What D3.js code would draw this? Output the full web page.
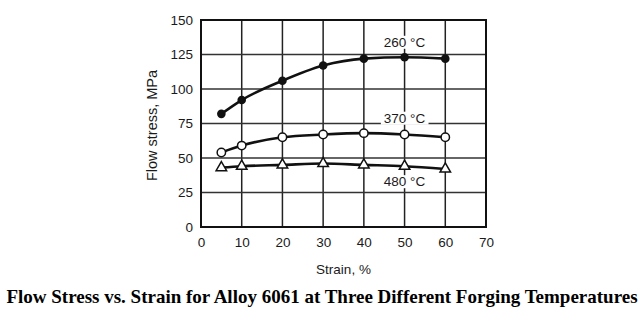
<!DOCTYPE html>
<html>
<head>
<meta charset="utf-8">
<script src="https://cdn.jsdelivr.net/npm/d3@7"></script>
<style>
  body { margin: 0; background: #fff; }
  .tick text { font-family: "Liberation Sans Narrow", "Arial Narrow", Arial, sans-serif; font-size: 13.5px; fill: #1a1a1a; }
</style>
</head>
<body>
<div id="chart-area"></div>
<script>

// Data
var strain = [5, 10, 20, 30, 40, 50, 60];
var stress260 = [82, 92, 106, 117, 122, 123, 122];
var stress370 = [54, 59, 65, 67, 68, 67, 65];
var stress480 = [43, 44, 45, 46, 45, 44, 42];

var xTicks = [0, 10, 20, 30, 40, 50, 60, 70];
var yTicks = [0, 25, 50, 75, 100, 125, 150];

var seriesNames = ["260 °C", "370 °C", "480 °C"];

// SVG drawing area
var margin = {top: 20, right: 156, bottom: 103, left: 201};
var width = 642 - margin.left - margin.right,
    height = 330 - margin.top - margin.bottom;

var svg = d3.select("#chart-area").append("svg")
    .attr("width", 642)
    .attr("height", 330);

var g = svg.append("g")
    .attr("transform", "translate(" + margin.left + "," + margin.top + ")");

// Scales
var x = d3.scaleLinear().domain([0, 70]).range([0, width]);
var y = d3.scaleLinear().domain([0, 150]).range([height, 0]);

// Grid
g.selectAll(".vgrid")
    .data(xTicks.slice(1, -1))
  .enter().append("line")
    .attr("x1", function(d) { return x(d); })
    .attr("x2", function(d) { return x(d); })
    .attr("y1", 0).attr("y2", height)
    .attr("stroke", "#222").attr("stroke-width", 1.5);

g.selectAll(".hgrid")
    .data(yTicks.slice(1, -1))
  .enter().append("line")
    .attr("x1", 0).attr("x2", width)
    .attr("y1", function(d) { return y(d); })
    .attr("y2", function(d) { return y(d); })
    .attr("stroke", "#333").attr("stroke-width", 1.4);

// Axes
var xAxis = d3.axisBottom(x).tickValues(xTicks).tickSize(0).tickPadding(10);
var yAxis = d3.axisLeft(y).tickValues(yTicks).tickSize(0).tickPadding(8);

g.append("g")
    .attr("transform", "translate(0," + height + ")")
    .call(xAxis)
    .call(function(s) { s.select(".domain").remove(); });

g.append("g")
    .call(yAxis)
    .call(function(s) { s.select(".domain").remove(); });

// Frame
g.append("rect")
    .attr("width", width).attr("height", height)
    .attr("fill", "none").attr("stroke", "#111").attr("stroke-width", 2);

// Series labels with white background knocking out grid
var labels = [
  {text: seriesNames[0], x: 50, y: 134},
  {text: seriesNames[1], x: 50, y: 79},
  {text: seriesNames[2], x: 50, y: 33}
];
labels.forEach(function(l) {
  var t = g.append("text")
      .attr("x", x(l.x)).attr("y", y(l.y))
      .attr("text-anchor", "middle").attr("dy", "0.35em")
      .attr("font-family", "Arial, 'Liberation Sans', sans-serif")
      .attr("font-size", 13.5).attr("fill", "#1a1a1a")
      .text(l.text);
  var bb = t.node().getBBox();
  g.insert("rect", function() { return t.node(); })
      .attr("x", bb.x - 3).attr("y", bb.y + 1)
      .attr("width", bb.width + 6).attr("height", bb.height - 2)
      .attr("fill", "#fff");
});

// Lines
var line = d3.line()
    .x(function(d) { return x(d[0]); })
    .y(function(d) { return y(d[1]); })
    .curve(d3.curveMonotoneX);

var series = [stress260, stress370, stress480].map(function(vals) {
  return vals.map(function(v, i) { return [strain[i], v]; });
});

series.forEach(function(pts) {
  g.append("path")
      .datum(pts)
      .attr("d", line)
      .attr("fill", "none")
      .attr("stroke", "#111")
      .attr("stroke-width", 2.6);
});

// Markers
g.selectAll(".p260")
    .data(series[0])
  .enter().append("circle")
    .attr("cx", function(d) { return x(d[0]); })
    .attr("cy", function(d) { return y(d[1]); })
    .attr("r", 4.3)
    .attr("fill", "#111");

g.selectAll(".p370")
    .data(series[1])
  .enter().append("circle")
    .attr("cx", function(d) { return x(d[0]); })
    .attr("cy", function(d) { return y(d[1]); })
    .attr("r", 4.2)
    .attr("fill", "#fff").attr("stroke", "#111").attr("stroke-width", 1.5);

var tri = d3.symbol().type(d3.symbolTriangle).size(48);
g.selectAll(".p480")
    .data(series[2])
  .enter().append("path")
    .attr("d", tri)
    .attr("transform", function(d) { return "translate(" + x(d[0]) + "," + y(d[1]) + ")"; })
    .attr("fill", "#fff").attr("stroke", "#111").attr("stroke-width", 1.5);

// Axis titles
svg.append("text")
    .attr("transform", "translate(157," + (margin.top + height / 2 + 2) + ") rotate(-90)")
    .attr("text-anchor", "middle")
    .attr("font-family", "Arial, 'Liberation Sans', sans-serif")
    .attr("font-size", 14.5).attr("fill", "#1a1a1a")
    .text("Flow stress, MPa");

svg.append("text")
    .attr("x", margin.left + x(35)).attr("y", 274)
    .attr("text-anchor", "middle")
    .attr("font-family", "Arial, 'Liberation Sans', sans-serif")
    .attr("font-size", 13.5).attr("fill", "#1a1a1a")
    .text("Strain, %");

// Figure caption
svg.append("text")
    .attr("x", 322).attr("y", 303)
    .attr("text-anchor", "middle")
    .attr("font-family", "'Liberation Serif', 'Times New Roman', serif")
    .attr("font-weight", "bold")
    .attr("font-size", 19).attr("fill", "#000")
    .text("Flow Stress vs. Strain for Alloy 6061 at Three Different Forging Temperatures");

</script>
</body>
</html>
